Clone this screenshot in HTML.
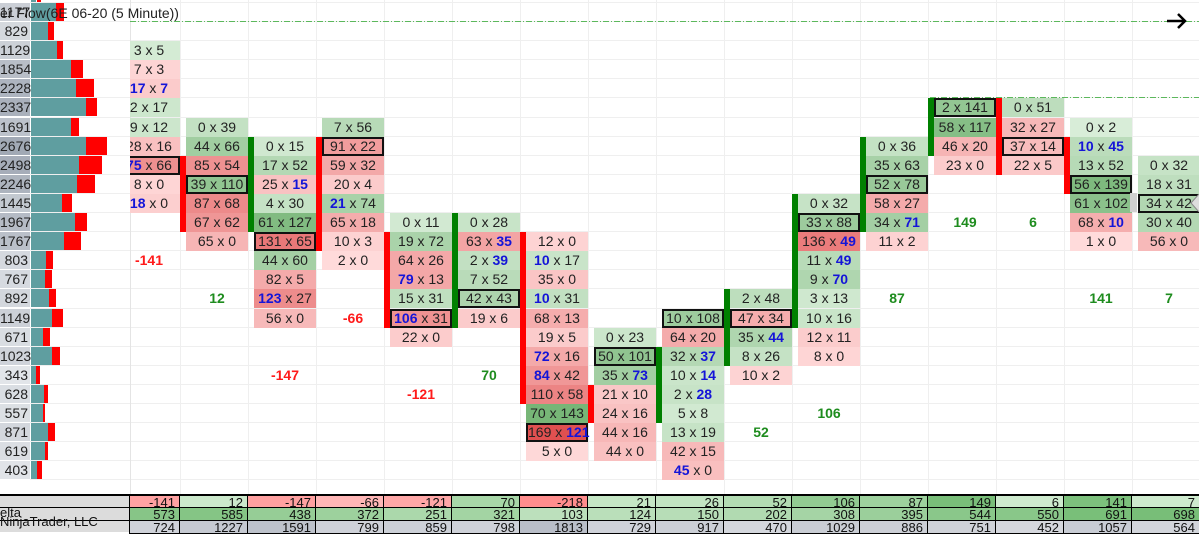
<!DOCTYPE html>
<html><head><meta charset="utf-8">
<style>
body{margin:0;width:1199px;height:532px;overflow:hidden;background:#fff;font-family:"Liberation Sans",Arial,sans-serif;position:relative}
.a{position:absolute;box-sizing:border-box}
.c{font-size:14px;line-height:18px;text-align:center;color:#222;white-space:nowrap}
.b{color:#1414d8;font-weight:bold}
.d{font-size:14px;font-weight:bold;text-align:center;line-height:19px}
.t{font-size:13px;line-height:13px;text-align:right;padding-right:4px;color:#111;border-right:1px solid #000;border-bottom:1px solid #000}
.gd{height:1px;background:repeating-linear-gradient(90deg,#5cb85c 0 6px,transparent 6px 8px,#5cb85c 8px 9px,transparent 9px 11px)}
.rd{height:1px;background:repeating-linear-gradient(90deg,#f07070 0 6px,transparent 6px 8px,#f07070 8px 9px,transparent 9px 11px)}
</style></head><body>
<div id="chart" class="a" style="left:130px;top:0;width:1069px;height:494px;overflow:hidden"></div>
<div id="prof" class="a" style="left:0;top:0;width:130px;height:494px;overflow:hidden;background:#fff"></div>
<div class="a" style="left:0;top:5px;font-size:14px;color:#222;white-space:nowrap">er Flow(6E 06-20 (5 Minute))</div>
<svg class="a" style="left:1160px;top:10px" width="30" height="22"><path d="M7 11H25M18 4L25 11L18 18" stroke="#000" stroke-width="2.5" fill="none"/></svg>
<div id="tbl" class="a" style="left:0;top:494px;width:1199px;height:38px;background:#dcdcdc;border-top:2px solid #000"></div>
<div class="a" style="left:0;top:505px;font-size:13px;color:#111">elta</div>
<div class="a" style="left:0;top:514px;font-size:13px;color:#111;white-space:nowrap">NinjaTrader, LLC</div>
<script>
(function(){
function rowTop(k){return Math.round(22+19.1*(k-1));}
var ch=document.getElementById('chart'),pr=document.getElementById('prof');
var h='';
for(var k=0;k<26;k++){h+='<div class="a" style="left:0;top:'+(rowTop(k)-1)+'px;width:1069px;height:1px;background:#efefef"></div>';}
for(var i=0;i<17;i++){var s=112+68*i-130;h+='<div class="a" style="left:'+s+'px;top:0;width:1px;height:494px;background:#efefef"></div>';}
h+='<div class="a" style="left:0;top:0;width:1px;height:494px;background:#e4e4e4"></div>';
h+='<div class="a gd" style="left:0;top:21px;width:1069px"></div>';
h+='<div class="a gd" style="left:800px;top:97px;width:269px"></div>';
h+='<div class="a rd" style="left:899px;top:173px;width:32px"></div>';
function mix(a,b,t){var r=[];for(var j=0;j<3;j++)r.push(Math.round(a[j]+(b[j]-a[j])*t));return 'rgb('+r.join(',')+')';}
var cols=[
 {r:2,bar:null,cells:['3x5','7x3','*17x*7','2x17','9x12','28x16','!*75x66','08x0','*18x0'],d:[13,'-141']},
 {r:6,bar:['r',8,11],cells:['0x39','44x66','85x54','!39x110','87x68','67x62','65x0'],d:[15,'12']},
 {r:7,bar:['g',7,11],cells:['0x15','17x52','25x*15','4x30','61x127','!131x65','44x60','82x5','*123x27','56x0'],d:[19,'-147']},
 {r:6,bar:['r',7,12],cells:['7x56','!91x22','59x32','20x4','*21x74','65x18','10x3','2x0'],d:[16,'-66']},
 {r:11,bar:['r',12,16],cells:['0x11','19x72','64x26','*79x13','15x31','!*106x31','22x0'],d:[20,'-121']},
 {r:11,bar:['g',11,16],cells:['0x28','63x*35','2x*39','7x52','!42x43','19x6'],d:[19,'70']},
 {r:12,bar:['r',12,20],cells:['12x0','*10x17','35x0','*10x31','68x13','19x5','*72x16','*84x42','110x58','70x143','!169x*121','5x0'],d:null},
 {r:17,bar:['r',20,21],cells:['0x23','!50x101','35x*73','21x10','24x16','44x16','44x0'],d:null},
 {r:16,bar:['g',18,21],cells:['!10x108','64x20','32x*37','10x*14','2x*28','5x8','13x19','42x15','*45x0'],d:null},
 {r:15,bar:['g',15,18],cells:['2x48','!47x34','35x*44','8x26','10x2'],d:[22,'52']},
 {r:10,bar:['g',10,16],cells:['0x32','!33x88','136x*49','11x*49','9x*70','3x13','10x16','12x11','8x0'],d:[21,'106']},
 {r:7,bar:['g',7,11],cells:['0x36','35x63','!52x78','58x27','34x*71','11x2'],d:[15,'87']},
 {r:5,bar:['g',5,7],cells:['!2x141','58x117','46x20','23x0'],d:[11,'149']},
 {r:5,bar:['r',5,8],cells:['0x51','32x27','!37x14','22x5'],d:[11,'6']},
 {r:6,bar:['r',7,9],cells:['0x2','*10x*45','13x52','!56x139','61x102','68x*10','1x0'],d:[15,'141']},
 {r:8,bar:null,cells:['0x32','18x31','!34x42','30x40','56x0'],d:[15,'7']}
];
cols.forEach(function(c,i){
 var s=112+68*i-130;
 c.cells.forEach(function(v,j){
  var k=c.r+j,box=v[0]=='!';if(box)v=v.slice(1);
  var p=v.split('x'),lb=p[0][0]=='*',rb=p[1][0]=='*';
  var L=parseInt(p[0].replace('*','')),R=parseInt(p[1].replace('*',''));
  var tot=L+R,bg,t;
  if(R>L){t=Math.min(1,Math.pow(tot/230,0.85));bg=mix([218,238,218],[112,178,112],t);}
  else{t=Math.min(1,Math.pow(tot/290,0.85));bg=mix([255,220,220],[224,80,80],t);}
  var ls=lb?'<span class="b">'+L+'</span>':L, rs=rb?'<span class="b">'+R+'</span>':R;
  h+='<div class="a c" style="left:'+(s+6)+'px;top:'+rowTop(k)+'px;width:62px;height:19px;background:'+bg+';'+(box?'border:2px solid #111;line-height:15px;':'')+'">'+ls+' x '+rs+'</div>';
 });
 if(c.bar){var b=c.bar;h+='<div class="a" style="left:'+s+'px;top:'+rowTop(b[1])+'px;width:6px;height:'+(rowTop(b[2]+1)-rowTop(b[1]))+'px;background:'+(b[0]=='r'?'#ff0000':'#008000')+'"></div>';}
 if(c.d){h+='<div class="a d" style="left:'+(s+6)+'px;top:'+rowTop(c.d[0])+'px;width:62px;color:'+(c.d[1][0]=='-'?'#ff1a1a':'#1e8c1e')+'">'+c.d[1]+'</div>';}
});
h+='<div class="a" style="left:1000px;top:193px;width:7px;height:19px;background:#d0d0d0"></div>';
h+='<svg class="a" style="left:1060px;top:194px" width="9" height="18"><path d="M9 0L1 9L9 18" fill="#ddd" stroke="#888"/></svg>';
ch.innerHTML=h;
var P=[[0,'1177',55,63],[1,'829',47,53],[2,'1129',56,62],[3,'1854',70,82],[4,'2228',75,93],[5,'2337',85,96],[6,'1691',70,78],[7,'2676',85,106],[8,'2498',78,101],[9,'2246',76,94],[10,'1445',61,71],[11,'1967',74,86],[12,'1767',63,80],[13,'803',45,52],[14,'767',44,51],[15,'892',48,55],[16,'1149',51,62],[17,'671',42,49],[18,'1023',51,59],[19,'343',35,39],[20,'628',43,47],[21,'557',42,44],[22,'871',47,54],[23,'619',44,47],[24,'403',36,41]];
var g='<div class="a" style="left:31px;top:0;width:5px;height:2px;background:#5f9ea0"></div><div class="a" style="left:37px;top:0;width:4px;height:2px;background:#f00"></div>';
P.forEach(function(p){
 var y=rowTop(p[0]),v=parseInt(p[1]),t=Math.min(1,v/2700);
 g+='<div class="a" style="left:0;top:'+y+'px;width:30px;height:18px;background:'+mix([236,238,241],[160,168,180],t)+';font-size:14px;line-height:18px;text-align:right;padding-right:2px;color:#222">'+p[1]+'</div>';
 g+='<div class="a" style="left:31px;top:'+y+'px;width:'+(p[2]-30)+'px;height:18px;background:#5f9ea0"></div>';
 g+='<div class="a" style="left:'+(p[2]+1)+'px;top:'+y+'px;width:'+(p[3]-p[2])+'px;height:18px;background:#ff0000"></div>';
});
for(var k2=0;k2<26;k2++)g+='<div class="a" style="left:30px;top:'+(rowTop(k2)-1)+'px;width:100px;height:1px;background:#efefef"></div>';
pr.innerHTML=g;
var D=[-141,12,-147,-66,-121,70,-218,21,26,52,106,87,149,6,141,7];
var V=[573,585,438,372,251,321,103,124,150,202,308,395,544,550,691,698];
var T=[724,1227,1591,799,859,798,1813,729,917,470,1029,886,751,452,1057,564];
var tb='';
for(var i2=0;i2<16;i2++){
 var x=i2==0?130:112+68*i2, w=i2==0?50:68;
 var d=D[i2],bg=d<0?mix([255,200,200],[255,140,140],Math.min(1,-d/220)):mix([210,236,210],[120,190,120],Math.min(1,d/150));
 tb+='<div class="a t" style="left:'+x+'px;top:0;width:'+w+'px;height:12px;background:'+bg+'">'+d+'</div>';
 tb+='<div class="a t" style="left:'+x+'px;top:12px;width:'+w+'px;height:13px;background:'+mix([200,230,200],[120,190,120],Math.min(1,V[i2]/700))+'">'+V[i2]+'</div>';
 tb+='<div class="a t" style="left:'+x+'px;top:25px;width:'+w+'px;height:13px;background:'+mix([222,224,228],[185,190,200],Math.min(1,T[i2]/1800))+'">'+T[i2]+'</div>';
}
tb+='<div class="a" style="left:0;top:11px;width:130px;height:1px;background:#000"></div><div class="a" style="left:0;top:24px;width:130px;height:1px;background:#000"></div><div class="a" style="left:129px;top:0;width:1px;height:38px;background:#000"></div>';
document.getElementById('tbl').innerHTML=tb;
})();
</script>
</body></html>
